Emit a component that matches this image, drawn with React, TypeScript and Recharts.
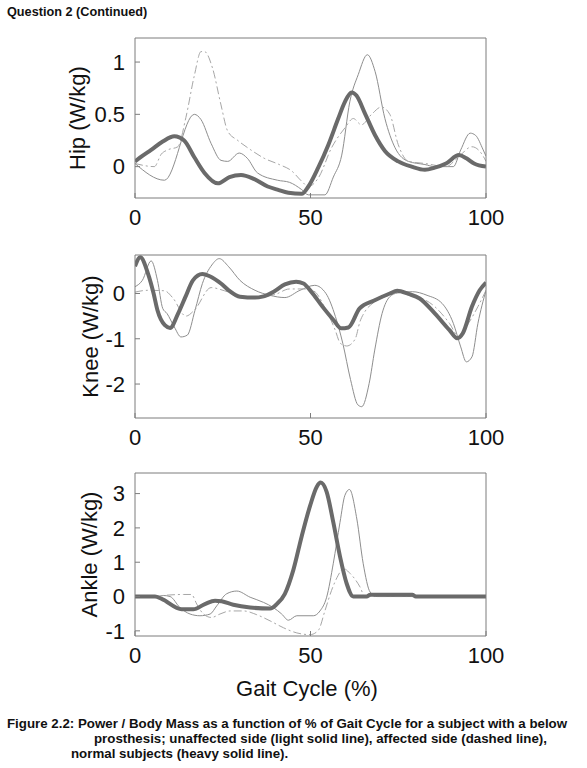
import React from 'react';
import { LineChart, Line, XAxis, YAxis, Label } from 'recharts';

type Pt = [number, number];

// gait cycle ticks and per-panel y ticks
const gaitTicks = [0, 50, 100];
const hipTicks = [0, 0.5, 1];
const kneeTicks = [-2, -1, 0];
const ankleTicks = [-1, 0, 1, 2, 3];

// [gait %, W/kg]
const hipNormal: Pt[] = [
  [0, 0.05], [2, 0.1], [4.6, 0.16], [7.9, 0.24], [11.2, 0.29], [14, 0.25], [16.9, 0.09],
  [19.8, -0.06], [23.6, -0.16], [26.9, -0.1], [30.2, -0.08], [34, -0.12], [37.8, -0.19],
  [40.6, -0.22], [43.7, -0.25], [47.5, -0.26], [49.4, -0.19], [52.2, -0.01], [55.1, 0.21],
  [57.9, 0.46], [59.8, 0.62], [61.7, 0.71], [63.1, 0.68], [65.5, 0.51], [68.4, 0.3],
  [71.2, 0.15], [75, 0.05], [78.8, 0], [82.6, -0.03], [85.4, -0.01], [88.6, 0.03],
  [92.3, 0.11], [94.4, 0.08], [96.6, 0.03], [100, 0],
];
const hipUnaffected: Pt[] = [
  [0, 0.03], [8.4, -0.13], [16.9, 0.5], [18.8, 0.45], [21.7, 0.22], [24.5, 0.06], [26.4, 0.05],
  [29.7, 0.13], [32, 0.08], [34.9, -0.06], [40.6, -0.13], [44, -0.15], [47.5, -0.22],
  [49.4, -0.27], [54.1, -0.27], [56.5, -0.1], [58.9, 0.11], [61.2, 0.62], [63.6, 0.88],
  [66.2, 1.07], [68.4, 0.91], [71.2, 0.46], [74.1, 0.18], [77.9, 0.05], [82.6, 0.02],
  [85.4, 0], [90.7, 0], [92.8, 0.16], [95.5, 0.32], [97, 0.3], [99.2, 0.16], [100, 0.1],
];
const hipAffected: Pt[] = [
  [0, 0.03], [5.5, 0], [7.5, 0.12], [9.3, 0.16], [12.2, 0.19], [14.5, 0.47], [16.9, 0.87],
  [18.8, 1.1], [19.8, 1.1], [22.1, 0.94], [24.5, 0.59], [26.4, 0.34], [29.3, 0.25], [33, 0.16],
  [36.8, 0.08], [41.1, 0.02], [44.6, -0.04], [47.5, -0.14], [49.4, -0.19], [52.2, -0.11],
  [56, 0.18], [59.8, 0.37], [62.2, 0.46], [64.5, 0.4], [67.4, 0.5], [70.2, 0.57], [72.6, 0.5],
  [75, 0.21], [77.9, 0.05], [82.6, 0.03], [88.6, 0], [91.8, 0.08], [96, 0.19], [99.2, 0.1],
  [100, 0.05],
];

const kneeNormal: Pt[] = [
  [0, 0.6], [1.5, 0.8], [3.7, 0.44], [5.3, 0], [6.4, -0.37], [8.5, -0.7], [10, -0.76],
  [12.3, -0.44], [14.4, -0.07], [16.5, 0.29], [19.2, 0.43], [21.3, 0.38], [24.5, 0.22],
  [26.7, 0.07], [29.9, -0.07], [34.2, -0.09], [36.3, -0.07], [39.5, 0.04], [42.7, 0.2],
  [45.9, 0.26], [48, 0.22], [50.2, 0.04], [53.4, -0.29], [56.6, -0.59], [58.7, -0.77],
  [60.8, -0.75], [64, -0.33], [68.3, -0.15], [72.6, 0], [74.7, 0.06], [77.9, -0.01],
  [81.1, -0.11], [85.4, -0.44], [89.6, -0.81], [91.8, -0.99], [93.4, -0.88], [96, -0.29],
  [98.2, 0.07], [100, 0.24],
];
const kneeUnaffected: Pt[] = [
  [0, 0.15], [2.1, 0.29], [4.6, 0.72], [6.4, 0.29], [7.9, -0.33], [9.1, -0.44], [11.2, -0.74],
  [13.1, -0.96], [14.9, -0.92], [17.1, -0.37], [19.2, 0.22], [21.9, 0.63], [24, 0.77],
  [26.7, 0.59], [29.9, 0.29], [34.2, 0.07], [38.4, -0.04], [42.7, -0.09], [47, 0.07],
  [51.2, 0.18], [54.4, 0], [57.1, -0.51], [59.2, -1.1], [61.4, -1.9], [63.5, -2.46],
  [64.6, -2.5], [66.7, -1.99], [68.3, -1.25], [70.4, -0.44], [72.6, -0.07], [74.7, 0.01],
  [79, 0.04], [83.2, -0.04], [87.5, -0.22], [90.7, -0.66], [92.8, -1.18], [94.4, -1.51],
  [96, -1.4], [97.7, -0.66], [100, 0.07],
];
const kneeAffected: Pt[] = [
  [0, 0.03], [3.6, 0.07], [8.4, 0.06], [10.7, -0.09], [14.5, -0.5], [16.9, -0.37],
  [21.7, 0.13], [25.5, 0.06], [30, -0.05], [35, -0.08], [40, -0.02], [44, 0.1], [48, 0.1],
  [51, 0.05], [54, -0.3], [57, -0.8], [58.5, -1.1], [60.3, -1.16], [62.7, -1.01],
  [64.1, -0.62], [65.5, -0.4], [68, -0.2], [72, -0.05], [75, 0.03], [80, -0.05],
  [85.4, -0.29], [89.6, -0.66], [92.3, -0.96], [95, -0.66], [97.7, -0.29], [100, 0.07],
];

const ankleNormal: Pt[] = [
  [0, 0], [5.7, 0], [7.6, -0.07], [13.3, -0.37], [16.6, -0.37], [19.9, -0.22], [22.8, -0.12],
  [24.7, -0.14], [28, -0.24], [32.8, -0.32], [38.5, -0.35], [40.4, -0.22], [42.7, 0.08],
  [45.1, 0.77], [47.5, 1.76], [49.9, 2.65], [51.8, 3.2], [52.9, 3.32], [54.6, 3.05],
  [56.5, 2.16], [58.4, 1.17], [60.3, 0.38], [62.2, 0], [66, 0], [67, 0.05], [79, 0.05],
  [80, 0], [100, 0],
];
const ankleUnaffected: Pt[] = [
  [0, 0], [6, 0], [8.1, 0.03], [10, 0], [12.8, -0.32], [15.7, -0.51], [18.5, -0.56],
  [21.4, -0.51], [23.3, -0.27], [26.1, 0.08], [29, 0.16], [32.8, -0.02], [36.6, -0.17],
  [39.4, -0.32], [41.8, -0.51], [43.7, -0.69], [46.1, -0.56], [50.8, -0.56], [52.7, -0.42],
  [54.6, -0.02], [56.5, 0.97], [58.4, 2.16], [59.8, 2.95], [61.1, 3.12], [63.2, 2.26],
  [65, 0.97], [67, 0.13], [69, 0], [100, 0],
];
const ankleAffected: Pt[] = [
  [0, 0], [6, 0], [8, 0.03], [13.8, 0.06], [16.1, 0.06], [17.6, -0.22], [19.5, -0.51],
  [21.8, -0.61], [24.2, -0.51], [27.1, -0.42], [30.9, -0.42], [34.7, -0.53], [38.5, -0.71],
  [42.3, -0.91], [46.1, -1.06], [49.9, -1.11], [52.2, -0.99], [54.1, -0.42], [56, 0.18],
  [57.9, 0.62], [59.3, 0.82], [61.3, 0.67], [64.1, 0.28], [65.5, 0], [100, 0],
];

const FONT = '"Liberation Sans", Arial, Helvetica, sans-serif';
const BOX = '#7d7d7d';
const tickStyle = { fill: '#111', fontSize: 22, fontFamily: FONT };

const toRows = (pts: Pt[]) => pts.map(([x, y]) => ({ x, y }));

type PanelProps = {
  top: number;
  height: number;
  marginTop: number;
  marginBottom: number;
  name: string;
  labelX: number;
  domain: [number, number];
  ticks: number[];
  normal: Pt[];
  unaffected: Pt[];
  affected: Pt[];
  xTitle?: { text: string; x: number; y: number };
};

function Panel(p: PanelProps) {
  return (
    <div style={{ position: 'absolute', left: 0, top: p.top }}>
      <LineChart
        width={587}
        height={p.height}
        margin={{ top: p.marginTop - 1, right: 100, bottom: p.marginBottom, left: 0 }}
      >
        <XAxis
          dataKey="x"
          type="number"
          domain={[0, 100]}
          ticks={gaitTicks}
          interval={0}
          height={42}
          stroke={BOX}
          tickSize={-5}
          tickMargin={16}
          tick={tickStyle}
          allowDataOverflow
        >
          {p.xTitle && (
            <Label
              content={() => (
                <text
                  x={p.xTitle!.x}
                  y={p.xTitle!.y}
                  textAnchor="middle"
                  dominantBaseline="central"
                  fontSize={22}
                  fontFamily={FONT}
                  fill="#111"
                >
                  {p.xTitle!.text}
                </text>
              )}
            />
          )}
        </XAxis>
        {/* top and right axes close the box and carry the inward ticks */}
        <XAxis
          xAxisId="top"
          orientation="top"
          dataKey="x"
          type="number"
          domain={[0, 100]}
          ticks={gaitTicks}
          interval={0}
          height={1}
          stroke={BOX}
          tickSize={-5}
          tick={false}
          allowDataOverflow
        />
        <YAxis
          type="number"
          domain={p.domain}
          ticks={p.ticks}
          interval={0}
          width={135}
          stroke={BOX}
          tickSize={-5}
          tickMargin={15}
          tick={tickStyle}
          allowDataOverflow
        >
          <Label
            content={(lp: any) => {
              const vb = lp.viewBox || { y: 0, height: 0 };
              const cy = vb.y + vb.height / 2;
              return (
                <text
                  x={p.labelX}
                  y={cy}
                  transform={`rotate(-90, ${p.labelX}, ${cy})`}
                  textAnchor="middle"
                  dominantBaseline="central"
                  fontSize={22}
                  fontFamily={FONT}
                  fill="#111"
                >
                  {p.name}
                </text>
              );
            }}
          />
        </YAxis>
        <YAxis
          yAxisId="right"
          orientation="right"
          type="number"
          domain={p.domain}
          ticks={p.ticks}
          interval={0}
          width={1}
          stroke={BOX}
          tickSize={-5}
          tick={false}
          allowDataOverflow
        />
        <Line
          data={toRows(p.unaffected)}
          dataKey="y"
          type="monotone"
          stroke="#8e8e8e"
          strokeWidth={1}
          dot={false}
          isAnimationActive={false}
        />
        <Line
          data={toRows(p.affected)}
          dataKey="y"
          type="monotone"
          stroke="#a6a6a6"
          strokeWidth={1}
          strokeDasharray="8 3 2 3"
          dot={false}
          isAnimationActive={false}
        />
        <Line
          data={toRows(p.normal)}
          dataKey="y"
          xAxisId="top"
          yAxisId="right"
          type="monotone"
          stroke="#6a6a6a"
          strokeWidth={4}
          dot={false}
          isAnimationActive={false}
        />
      </LineChart>
    </div>
  );
}

const captionStyle: React.CSSProperties = {
  position: 'absolute',
  whiteSpace: 'nowrap',
  fontFamily: FONT,
  fontWeight: 'bold',
  fontSize: 13.3,
  lineHeight: '15px',
  color: '#111',
};

export default function App() {
  return (
    <div
      style={{
        position: 'absolute',
        left: 0,
        top: 0,
        width: 587,
        height: 768,
        background: '#fff',
        overflow: 'hidden',
      }}
    >
      <div style={{ ...captionStyle, left: 7, top: 4.5, fontSize: 12.7 }}>Question 2 (Continued)</div>
      <Panel
        top={0}
        height={240}
        marginTop={38}
        marginBottom={0}
        name="Hip (W/kg)"
        labelX={77}
        domain={[-0.3, 1.23]}
        ticks={hipTicks}
        normal={hipNormal}
        unaffected={hipUnaffected}
        affected={hipAffected}
      />
      <Panel
        top={240}
        height={220}
        marginTop={15}
        marginBottom={0}
        name="Knee (W/kg)"
        labelX={90}
        domain={[-2.75, 0.85]}
        ticks={kneeTicks}
        normal={kneeNormal}
        unaffected={kneeUnaffected}
        affected={kneeAffected}
      />
      <Panel
        top={460}
        height={246}
        marginTop={13}
        marginBottom={28}
        name="Ankle (W/kg)"
        labelX={89}
        domain={[-1.15, 3.6]}
        ticks={ankleTicks}
        normal={ankleNormal}
        unaffected={ankleUnaffected}
        affected={ankleAffected}
        xTitle={{ text: 'Gait Cycle (%)', x: 307, y: 228 }}
      />
      <div style={{ ...captionStyle, left: 7, top: 715.5 }}>
        Figure 2.2: Power / Body Mass as a function of % of Gait Cycle for a subject with a below
      </div>
      <div style={{ ...captionStyle, left: 94, top: 730.5 }}>
        prosthesis; unaffected side (light solid line), affected side (dashed line),
      </div>
      <div style={{ ...captionStyle, left: 71, top: 745.5 }}>normal subjects (heavy solid line).</div>
    </div>
  );
}
